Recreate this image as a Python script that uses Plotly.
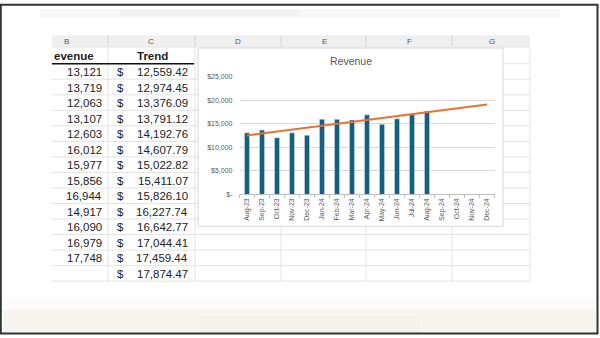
import plotly.graph_objects as go

W, H = 600, 338

# ---------------- data ----------------
months = ["Aug-23", "Sep-23", "Oct-23", "Nov-23", "Dec-23", "Jan-24", "Feb-24", "Mar-24",
          "Apr-24", "May-24", "Jun-24", "Jul-24", "Aug-24", "Sep-24", "Oct-24", "Nov-24", "Dec-24"]
revenue = [13121, 13719, 12063, 13107, 12603, 16012, 15977, 15856, 16944, 14917, 16090, 16979, 17748]
trend = [12559.42, 12974.45, 13376.09, 13791.12, 14192.76, 14607.79, 15022.82, 15411.07,
         15826.10, 16227.74, 16642.77, 17044.41, 17459.44, 17874.47]
trend_chart_extra = [18290, 18705, 19120]  # (Oct-24..Dec-24)
col_letters = ["B", "C", "D", "E", "F", "G"]
y_tickvals = [0, 5000, 10000, 15000, 20000, 25000]
y_ticktext = ["$-", "$5,000", "$10,000", "$15,000", "$20,000", "$25,000"]

FONT = "Liberation Sans"


def px(x):
    return x / W


def py(y):
    return 1 - y / H


shapes = []
annotations = []


def rect(x0, y0, x1, y1, fill, line=None, lw=0, layer="below"):
    shapes.append(dict(type="rect", xref="paper", yref="paper", x0=px(x0), x1=px(x1),
                       y0=py(y0), y1=py(y1), fillcolor=fill,
                       line=dict(color=line or "rgba(0,0,0,0)", width=lw), layer=layer))


def line(x0, y0, x1, y1, color, lw=1, layer="below"):
    shapes.append(dict(type="line", xref="paper", yref="paper", x0=px(x0), x1=px(x1),
                       y0=py(y0), y1=py(y1), line=dict(color=color, width=lw), layer=layer))


def text(x, y, s, size=11, color="#222", xanchor="center", bold=False, family=FONT):
    if bold:
        s = "<b>" + s + "</b>"
    annotations.append(dict(xref="paper", yref="paper", x=px(x), y=py(y), text=s,
                            showarrow=False, xanchor=xanchor, yanchor="middle",
                            font=dict(size=size, color=color, family=family)))


# faint blurred bands at top and bottom of screenshot
rect(40, 5, 560, 14, "#f7f7f7")
rect(120, 6, 300, 12, "#f1f1f1")
rect(3, 300, 596, 336, "#fbfaf8")
rect(3, 312, 596, 336, "#f7f4ef")
rect(200, 318, 420, 334, "#f4f1ec")

# spreadsheet column header band
GX0, GX1 = 52, 530
col_edges = [52, 108, 195, 281, 366, 452, 530]
col_label_x = [66, 151, 238, 324, 409, 492]
rect(GX0, 32, GX1, 44, "#efefef")
for xe in col_edges[1:-1]:
    line(xe, 32, xe, 44, "#d6d6d6", 1)
for lx, lab in zip(col_label_x, col_letters):
    text(lx, 38.5, lab, size=8, color="#555")

# grid rows
row_top = 61
row_h = (283 - 61) / 14
for k in range(15):
    yy = row_top + k * row_h
    line(GX0, yy, GX1, yy, "#e3e3e3", 1)
line(GX0, 44, GX1, 44, "#e3e3e3", 1)
for xe in col_edges[1:]:
    line(xe, 44, xe, 283, "#e3e3e3", 1)

# header row of the table
line(52, 61, 194, 61, "#111", 1.6)
text(52, 53, "evenue", size=11.5, xanchor="left", bold=True)
text(152, 53, "Trend", size=11.5, bold=True)

# table values
for i in range(len(trend)):
    yc = row_top + (i + 0.5) * row_h + 0.5
    if i < len(revenue):
        text(104, yc, f"{revenue[i]:,}", size=11.5, xanchor="right")
    text(115, yc, "$", size=11.5, xanchor="left")
    text(190, yc, f"{trend[i]:,.2f}", size=11.5, xanchor="right")

# chart box
rect(198, 45, 503, 227, "#ffffff", "#d9d9d9", 1)
text(351, 58, "Revenue", size=10.5, color="#595959")

# outer frame
rect(0.8, 0.8, 597.5, 336.5, "rgba(0,0,0,0)", "#333", 2, layer="above")

trend_chart = trend + trend_chart_extra

fig = go.Figure()
fig.add_trace(go.Bar(x=months[:len(revenue)], y=revenue, marker_color="#156082",
                     width=0.34, showlegend=False))
fig.add_trace(go.Scatter(x=months, y=trend_chart, mode="lines",
                         line=dict(color="#E97132", width=2), showlegend=False))

fig.update_layout(
    width=W, height=H, margin=dict(l=0, r=0, t=0, b=0),
    paper_bgcolor="#ffffff", plot_bgcolor="rgba(0,0,0,0)",
    shapes=shapes, annotations=annotations,
    xaxis=dict(domain=[px(239.5), px(494.5)], type="category", categoryorder="array",
               categoryarray=months, range=[-0.5, len(months) - 0.5],
               showgrid=False, showline=True, linecolor="#bfbfbf", linewidth=1,
               ticks="outside", tickson="boundaries", ticklen=3, tickcolor="#bfbfbf",
               tickangle=-90, tickfont=dict(size=7, color="#595959", family=FONT),
               zeroline=False, fixedrange=True),
    yaxis=dict(domain=[py(194.5), py(74.5)], range=[0, 25000],
               tickvals=y_tickvals, ticktext=y_ticktext,
               showgrid=True, gridcolor="#d9d9d9", gridwidth=1,
               showline=False, ticks="", zeroline=False,
               tickfont=dict(size=7, color="#595959", family=FONT),
               ticklabelstandoff=6, fixedrange=True),
    bargap=0.6,
)

fig.write_html("out.html")
